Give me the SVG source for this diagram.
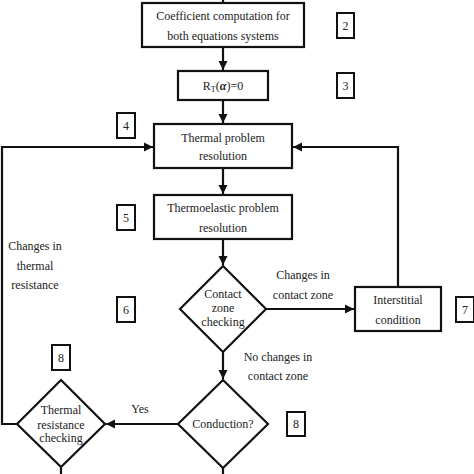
<svg xmlns="http://www.w3.org/2000/svg" width="474" height="474" viewBox="0 0 474 474">
<style>
.b{fill:#fff;stroke:#111;stroke-width:2.2}
.l{fill:#fff;stroke:#111;stroke-width:2}
.c{fill:none;stroke:#111;stroke-width:2.2}
text{font-family:"Liberation Serif","Times New Roman",serif;font-size:12px;fill:#222;text-anchor:middle}
</style>
<defs>
<marker id="a" viewBox="0 0 10 10" refX="10" refY="5" markerWidth="4.2" markerHeight="4.2" orient="auto" markerUnits="strokeWidth">
<path d="M0,0L10,5L0,10z" fill="#111"/>
</marker>
</defs>
<rect width="474" height="474" fill="#fff"/>
<g id="connectors">
<path class="c" d="M223,0V3"/>
<path class="c" d="M223,47V70" marker-end="url(#a)"/>
<path class="c" d="M223,100V123" marker-end="url(#a)"/>
<path class="c" d="M223,168V194" marker-end="url(#a)"/>
<path class="c" d="M223,239V265" marker-end="url(#a)"/>
<path class="c" d="M266,309H354" marker-end="url(#a)"/>
<path class="c" d="M398,287V147H293" marker-end="url(#a)"/>
<path class="c" d="M223,352V379" marker-end="url(#a)"/>
<path class="c" d="M178,424H106" marker-end="url(#a)"/>
<path class="c" d="M17,424H2V147H153" marker-end="url(#a)"/>
<path class="c" d="M223,468V474"/>
<path class="c" d="M61,467V474"/>
</g>
<g id="n1"><rect class="b" x="142" y="3" width="162" height="44"/><text x="223" y="20">Coefficient computation for</text><text x="223" y="40">both equations systems</text></g>
<g id="n2"><rect class="b" x="178" y="71" width="90" height="29"/><text x="223" y="89.5">R<tspan font-size="8" dy="2">T</tspan><tspan dy="-2">(</tspan><tspan font-style="italic" font-weight="bold">α</tspan>)=0</text></g>
<g id="n3"><rect class="b" x="154" y="124" width="138" height="44"/><text x="223" y="142">Thermal problem</text><text x="223" y="160">resolution</text></g>
<g id="n4"><rect class="b" x="154" y="195" width="138" height="44"/><text x="223" y="212">Thermoelastic problem</text><text x="223" y="232">resolution</text></g>
<g id="n5"><path class="b" d="M223,266L266,309L223,352L180,309z"/><text x="223" y="298">Contact</text><text x="223" y="312">zone</text><text x="223" y="326">checking</text></g>
<g id="n6"><rect class="b" x="355" y="287" width="86" height="44"/><text x="398" y="304">Interstitial</text><text x="398" y="324">condition</text></g>
<g id="n7"><path class="b" d="M223,380L268,424L223,468L178,424z"/><text x="223" y="428">Conduction?</text></g>
<g id="n8"><path class="b" d="M61,380L105,424L61,467L17,424z"/><text x="61" y="414">Thermal</text><text x="61" y="429">resistance</text><text x="61" y="442">checking</text></g>
<g id="labels">
<rect class="l" x="337" y="13" width="17" height="25"/><text x="345.5" y="30">2</text>
<rect class="l" x="337" y="73" width="17" height="25"/><text x="345.5" y="90">3</text>
<rect class="l" x="117" y="113" width="18" height="25"/><text x="126" y="130">4</text>
<rect class="l" x="117" y="205" width="18" height="25"/><text x="126" y="222">5</text>
<rect class="l" x="117" y="297" width="18" height="25"/><text x="126" y="314">6</text>
<rect class="l" x="456" y="297" width="18" height="25"/><text x="465" y="314">7</text>
<rect class="l" x="52" y="345" width="18" height="25"/><text x="61" y="362">8</text>
<rect class="l" x="287" y="412" width="18" height="24"/><text x="296" y="428">8</text>
<text x="35" y="250">Changes in</text><text x="35" y="270">thermal</text><text x="35" y="289">resistance</text>
<text x="303" y="279">Changes in</text><text x="303" y="299">contact zone</text>
<text x="278" y="361">No changes in</text><text x="278" y="380">contact zone</text>
<text x="140" y="413">Yes</text>
</g>
</svg>
